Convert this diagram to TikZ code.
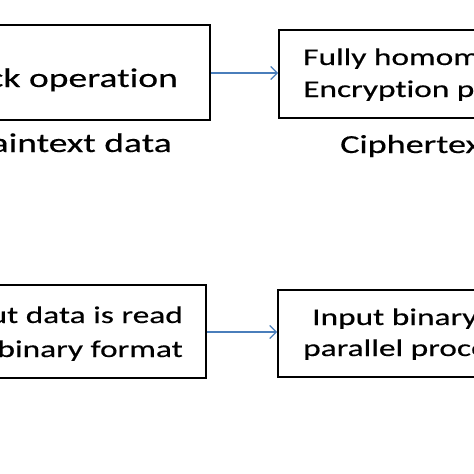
\documentclass[tikz,border=0pt]{standalone}
\usepackage{fontspec}
\setmainfont{Carlito}[FakeStretch=1.39,FakeBold=0.4,Ligatures=NoCommon]
\usepackage{tikz}
\usetikzlibrary{arrows.meta,calc}
\definecolor{arrowblue}{HTML}{4A7EBB}
\newcommand{\boxw}{1.7pt}
\newcommand{\bigtxt}{\fontsize{27}{29}\selectfont}
\newcommand{\midtxt}{\fontsize{24}{26}\selectfont}
\tikzset{
    stepbox/.style = {draw, line width=\boxw, inner sep=0pt},
    boxtext/.style = {inner sep=0pt, font=\midtxt},
    labtext/.style = {inner sep=0pt, font=\bigtxt},
    flow/.style = {draw=arrowblue, line width=1.3pt, -{Straight Barb[length=6.5pt,width=13pt]}}
}

\begin{document}
\begin{tikzpicture}[x=1pt,y=-1pt]
        \useasboundingbox (0,0) rectangle (474,474);
        \clip (0,0) rectangle (474,474);
        %\draw[help lines,step=50] (0,0) grid (474,474);
        % upper row
        \node[stepbox, minimum width=220pt, minimum height=95pt] (block) at (100,72.5) {};
        \node[stepbox, minimum width=206pt, minimum height=88pt] (fhe) at (382,74) {};
        \node[labtext, anchor=base east] (blocktxt) at (178,87) {ck operation};
        \node[labtext, anchor=base east] (plain) at (172,152) {aintext data};
        \node[boxtext, anchor=base west] (fheone) at (303,65) {Fully homom};
        \node[boxtext, anchor=base west] (fhetwo) at (303,97) {Encryption p};
        \node[labtext, anchor=base west, font=\fontsize{26}{28}\selectfont] (cipher) at (340,153) {Ciphertex};
        \draw[flow] (block.east |- 0,73) -- (fhe.west |- 0,73);
        % lower row
        \node[stepbox, minimum width=216pt, minimum height=93pt] (read) at (98,331.5) {};
        \node[stepbox, minimum width=206pt, minimum height=87pt] (par) at (381,333.5) {};
        \node[boxtext, anchor=base east] (readone) at (183,323) {ut data is read};
        \node[boxtext, anchor=base east] (readtwo) at (183,357) {binary format};
        \node[boxtext, anchor=base west] (parone) at (312,325) {Input binary};
        \node[boxtext, anchor=base west] (partwo) at (303,356) {parallel proce};
        \draw[flow] (read.east |- 0,332) -- (par.west |- 0,332);
    \end{tikzpicture}
\end{document}
